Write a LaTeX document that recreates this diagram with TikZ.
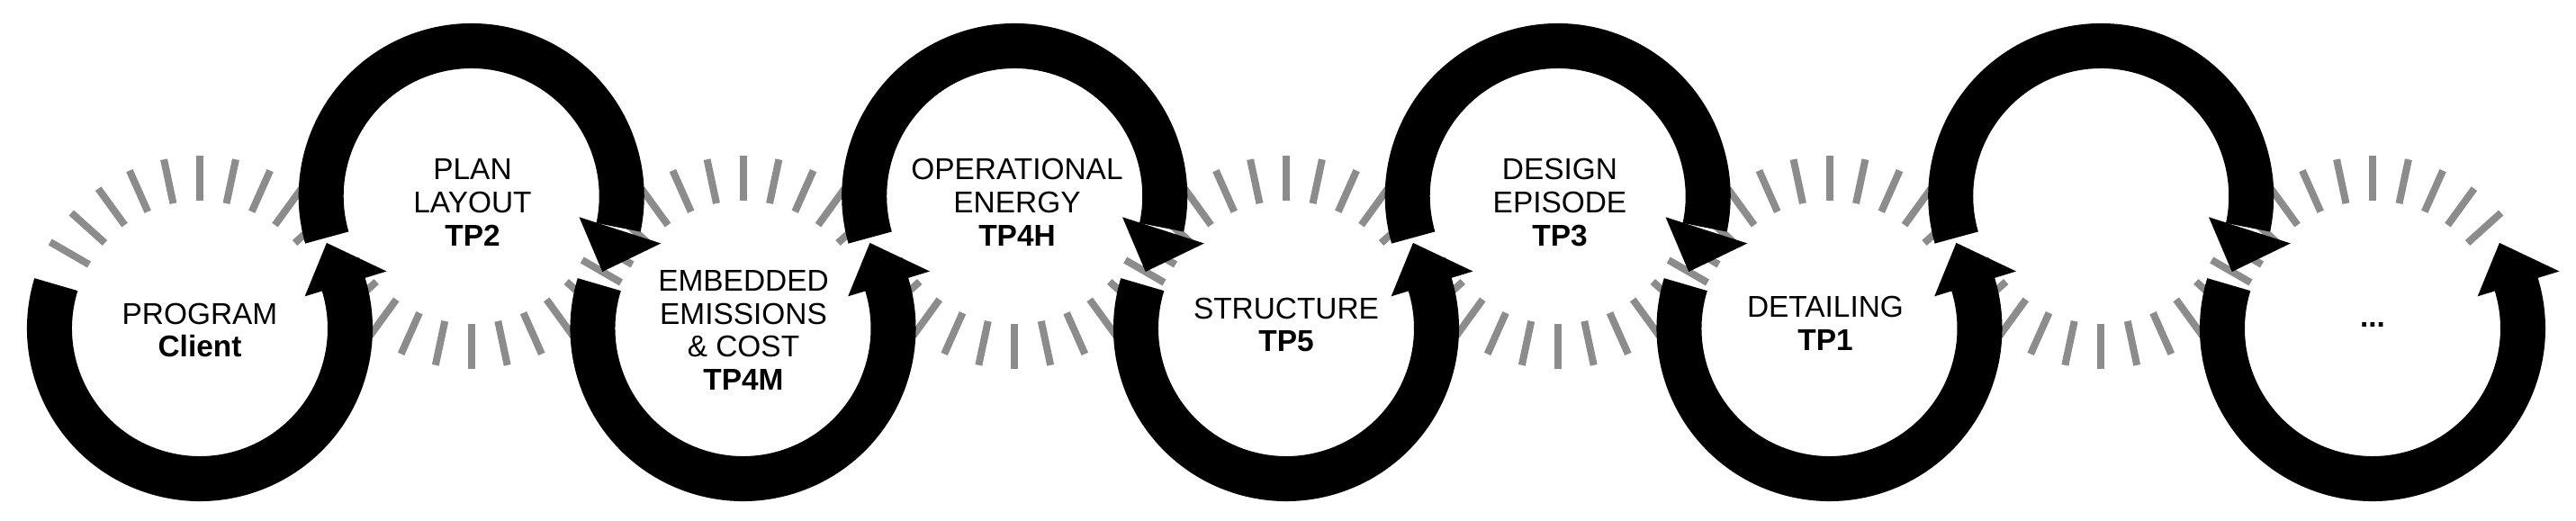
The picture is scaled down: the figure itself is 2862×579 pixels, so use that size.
\documentclass[tikz,border=0pt]{standalone}
\usepackage{fontspec}
\setmainfont{Liberation Sans}
\usetikzlibrary{calc}
\begin{document}
\begin{tikzpicture}[x=0.01cm,y=0.01cm,
  tick/.style={draw=black!45,line width=0.08cm},
  ring/.style={draw=black,line width=0.5cm},
  head/.style={fill=black},
  lbl/.style={align=center,font=\fontsize{9.5}{10.5}\selectfont}]
\useasboundingbox (0,0) rectangle (2862,579);
% ticks
\foreach \i in {0,2,4,6,8}{
  \pgfmathsetmacro\cx{222+301.75*\i}
  \foreach \a in {42,54,...,150}
    \draw[tick] (\cx,214)++(\a:142) -- ++(\a:50);
}
\foreach \i in {1,3,5,7}{
  \pgfmathsetmacro\cx{222+301.75*\i}
  \foreach \a in {210,222,...,330}
    \draw[tick] (\cx,361)++(\a:142) -- ++(\a:50);
}
% lower rings
\foreach \i in {0,2,4,6,8}{
  \pgfmathsetmacro\cx{222+301.75*\i}
  \coordinate (L\i) at (\cx,214);
  \draw[ring] (L\i)++(163:167) arc[start angle=163,end angle=378,radius=167];
  \fill[head] ($(L\i)+(17:122)$) -- ($(L\i)+(17:217)$) -- ($(L\i)+(34:170)$) -- cycle;
}
% upper rings
\foreach \i in {1,3,5,7}{
  \pgfmathsetmacro\cx{222+301.75*\i}
  \coordinate (U\i) at (\cx,361);
  \draw[ring] (U\i)++(196:167) arc[start angle=196,end angle=-12,radius=167];
  \fill[head] ($(U\i)+(-11:122)$) -- ($(U\i)+(-14:217)$) -- ($(U\i)+(-30:168)$) -- cycle;
}
\node[lbl] (t0) at (222,212) {PROGRAM\\\textbf{Client}};
\node[lbl] (t1) at (525,354) {PLAN\\LAYOUT\\\textbf{TP2}};
\node[lbl] (t2) at (826,212) {EMBEDDED\\EMISSIONS\\\& COST\\\textbf{TP4M}};
\node[lbl] (t3) at (1130,354) {OPERATIONAL\\ENERGY\\\textbf{TP4H}};
\node[lbl] (t4) at (1429,218) {STRUCTURE\\\textbf{TP5}};
\node[lbl] (t5) at (1733,354) {DESIGN\\EPISODE\\\textbf{TP3}};
\node[lbl] (t6) at (2028,220) {DETAILING\\\textbf{TP1}};
\node[lbl] (t8) at (2636,218) {\textbf{...}};
\end{tikzpicture}
\end{document}
